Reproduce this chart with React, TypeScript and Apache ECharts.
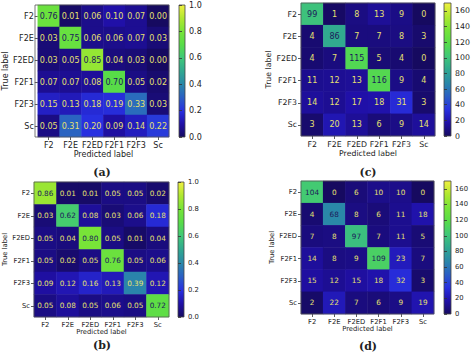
import React, { useEffect, useRef } from "react";
import * as echarts from "echarts";

const labels = ["F2", "F2E", "F2ED", "F2F1", "F2F3", "Sc"];

const matA = [
  [0.76, 0.01, 0.06, 0.10, 0.07, 0.00],
  [0.03, 0.75, 0.06, 0.06, 0.07, 0.03],
  [0.03, 0.05, 0.85, 0.04, 0.03, 0.00],
  [0.07, 0.07, 0.08, 0.70, 0.05, 0.02],
  [0.15, 0.13, 0.18, 0.19, 0.33, 0.03],
  [0.05, 0.31, 0.20, 0.09, 0.14, 0.22],
];
const matB = [
  [0.86, 0.01, 0.01, 0.05, 0.05, 0.02],
  [0.03, 0.62, 0.08, 0.03, 0.06, 0.18],
  [0.05, 0.04, 0.80, 0.05, 0.01, 0.04],
  [0.05, 0.02, 0.05, 0.76, 0.05, 0.06],
  [0.09, 0.12, 0.16, 0.13, 0.39, 0.12],
  [0.05, 0.08, 0.05, 0.06, 0.05, 0.72],
];
const matC = [
  [99, 1, 8, 13, 9, 0],
  [4, 86, 7, 7, 8, 3],
  [4, 7, 115, 5, 4, 0],
  [11, 12, 13, 116, 9, 4],
  [14, 12, 17, 18, 31, 3],
  [3, 20, 13, 6, 9, 14],
];
const matD = [
  [104, 0, 6, 10, 10, 0],
  [4, 68, 8, 6, 11, 18],
  [7, 8, 97, 7, 11, 5],
  [14, 8, 9, 109, 23, 7],
  [15, 12, 15, 18, 32, 3],
  [2, 22, 7, 6, 9, 19],
];

const fracTicks = [0, 0.2, 0.4, 0.6, 0.8, 1.0];
const countTicks = [0, 20, 40, 60, 80, 100, 120, 140, 160];
const fracMax = 1;
const countMax = 170;

const CMAP = [
  "#160a60", "#2010a8", "#2830e0", "#2a60c4", "#2a88a8", "#30a890",
  "#40c878", "#58dc48", "#78e438", "#b0e830", "#f0f040",
];

const FONT = "DejaVu Sans";
const DARK_TXT = "#1c1a5a";
const LIGHT_TXT = "#e6e070";

export default function App() {
  const ref = useRef<HTMLDivElement>(null);
  useEffect(() => {
    if (!ref.current) return;
    const chart = echarts.init(ref.current, null, { renderer: "svg" });

    const panels = [
      { m: matA, max: fracMax, ticks: fracTicks, dec: 2, grid: { left: 35, top: 5, width: 134, height: 132 }, cb: { left: 179, top: 5, width: 6, height: 132 }, fs: 8, ts: 8, yGap: 25, xGap: 13, cbFmt: (v: number) => v.toFixed(1), cap: "(a)", capPos: [102, 172] },
      { m: matC, max: countMax, ticks: countTicks, dec: 0, grid: { left: 301, top: 3, width: 134, height: 133 }, cb: { left: 444, top: 3, width: 7, height: 133 }, fs: 8, ts: 7.8, yGap: 27, xGap: 13, cbFmt: (v: number) => String(v), cap: "(c)", capPos: [368, 172] },
      { m: matB, max: fracMax, ticks: fracTicks, dec: 2, grid: { left: 34, top: 182, width: 135, height: 135 }, cb: { left: 178, top: 182, width: 6, height: 135 }, fs: 7.3, ts: 6.8, yGap: 22, xGap: 11, cbFmt: (v: number) => v.toFixed(1), cap: "(b)", capPos: [102, 345] },
      { m: matD, max: countMax, ticks: countTicks, dec: 0, grid: { left: 301, top: 181, width: 133, height: 133 }, cb: { left: 444, top: 181, width: 7, height: 133 }, fs: 7.3, ts: 6.8, yGap: 24, xGap: 11, cbFmt: (v: number) => String(v), cap: "(d)", capPos: [368, 346] },
    ];

    const grids: any[] = [];
    const xAxes: any[] = [];
    const yAxes: any[] = [];
    const series: any[] = [];
    const visualMaps: any[] = [];
    const graphics: any[] = [];

    const gradStops = CMAP.map((c, i) => ({ offset: i / (CMAP.length - 1), color: c }));

    panels.forEach((p, k) => {
      grids.push({ ...p.grid, show: false, containLabel: false });
      xAxes.push({
        type: "category", gridIndex: k, data: labels, position: "bottom",
        name: "Predicted label", nameLocation: "middle", nameGap: p.xGap,
        nameTextStyle: { fontFamily: FONT, fontSize: p.ts, color: "#222" },
        axisLine: { show: false }, splitLine: { show: false },
        axisTick: { show: true, alignWithLabel: true, length: 3, lineStyle: { color: "#333", width: 0.8 } },
        axisLabel: { fontFamily: FONT, fontSize: p.ts, color: "#222", margin: 4, interval: 0 },
      });
      yAxes.push({
        type: "category", gridIndex: k, data: labels, inverse: true,
        name: "True label", nameLocation: "middle", nameGap: p.yGap, nameRotate: 90,
        nameTextStyle: { fontFamily: FONT, fontSize: p.ts, color: "#222" },
        axisLine: { show: false }, splitLine: { show: false },
        axisTick: { show: true, alignWithLabel: true, length: 3, lineStyle: { color: "#333", width: 0.8 } },
        axisLabel: { fontFamily: FONT, fontSize: p.ts, color: "#222", margin: 4, interval: 0 },
      });
      let mx = -Infinity, mn = Infinity;
      p.m.forEach((r) => r.forEach((v) => { mx = Math.max(mx, v); mn = Math.min(mn, v); }));
      const thr = (mx + mn) / 2;
      const data: any[] = [];
      p.m.forEach((row, i) => row.forEach((v, j) => {
        data.push({ value: [j, i, v], label: { color: v > thr ? DARK_TXT : LIGHT_TXT } });
      }));
      series.push({
        type: "heatmap", xAxisIndex: k, yAxisIndex: k, data,
        label: {
          show: true, fontFamily: FONT, fontSize: p.fs,
          formatter: (q: any) => Number(q.value[2]).toFixed(p.dec),
        },
        itemStyle: { borderWidth: 0 },
        emphasis: { disabled: true },
      });
      visualMaps.push({
        type: "continuous", show: false, seriesIndex: k, dimension: 2,
        min: 0, max: p.max, inRange: { color: CMAP },
      });
      graphics.push({
        type: "rect", z: 100, silent: true,
        shape: { x: p.grid.left, y: p.grid.top, width: p.grid.width, height: p.grid.height },
        style: { fill: "none", stroke: "#555", lineWidth: 0.8 },
      });
      graphics.push({
        type: "text", z: 100, silent: true, x: p.capPos[0], y: p.capPos[1],
        style: { text: p.cap, fontFamily: "DejaVu Serif", fontSize: 11, fontWeight: "bold", fill: "#222", align: "center", verticalAlign: "middle" },
      });
    });

    panels.forEach((p, k) => {
      const gi = 4 + k;
      grids.push({
        ...p.cb, show: true, borderWidth: 0.8, borderColor: "#444",
        backgroundColor: new echarts.graphic.LinearGradient(0, 1, 0, 0, gradStops),
      });
      xAxes.push({ type: "value", gridIndex: gi, show: false });
      yAxes.push({
        type: "value", gridIndex: gi, position: "right", min: 0, max: p.max,
        axisLine: { show: false }, splitLine: { show: false },
        axisTick: { show: true, length: 3, customValues: p.ticks, lineStyle: { color: "#333", width: 0.8 } },
        axisLabel: { fontFamily: FONT, fontSize: p.ts, color: "#222", margin: 4, customValues: p.ticks, formatter: (v: number) => p.cbFmt(v) },
      });
    });

    chart.setOption({
      animation: false,
      backgroundColor: "#ffffff",
      grid: grids,
      xAxis: xAxes,
      yAxis: yAxes,
      visualMap: visualMaps,
      series,
      graphic: graphics,
    });
    return () => chart.dispose();
  }, []);
  return <div ref={ref} style={{ position: "fixed", left: 0, top: 0, width: 474, height: 355 }} />;
}
